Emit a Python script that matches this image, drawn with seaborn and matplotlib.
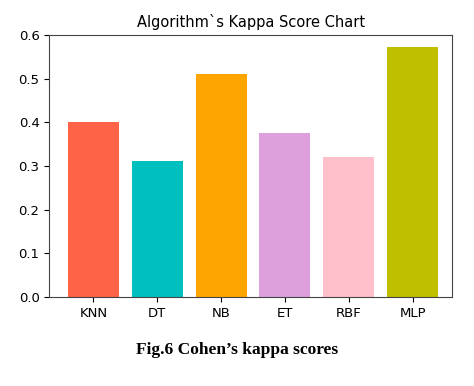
import pandas as pd
import matplotlib
matplotlib.use('Agg')
import matplotlib.pyplot as plt
import seaborn as sns

#valori
algorithms = ['KNN', 'DT', 'NB', 'ET', 'RBF', 'MLP']
kappa_scores = [0.400, 0.312, 0.511, 0.375, 0.320, 0.572]
bar_colors = ['tomato', 'c', 'orange', 'plum', 'pink', 'y']

df = pd.DataFrame({'Algorithm': algorithms, 'Kappa': kappa_scores})

fig = plt.figure(figsize=(4.74, 3.86), dpi=100)
ax = fig.add_axes([0.104, 0.231, 0.85, 0.678])
sns.barplot(x='Algorithm', y='Kappa', hue='Algorithm', data=df, palette=bar_colors,
            saturation=1, width=0.8, legend=False, ax=ax)
ax.set_xlim(-0.69, 5.62)
ax.set_ylim(0, 0.6)
ax.set_xlabel('')
ax.set_ylabel('')
ax.set_title('Algorithm`s Kappa Score Chart', fontsize=10.5)
ax.tick_params(labelsize=9.5)
for s in ax.spines.values():
    s.set_color('#444444')

fig.text(0.5, 0.093, 'Fig.6 Cohen\u2019s kappa scores', ha='center', va='center',
         family='Liberation Serif', fontweight='bold', fontsize=12.5)

fig.savefig('out.png', dpi=100, facecolor='white')
